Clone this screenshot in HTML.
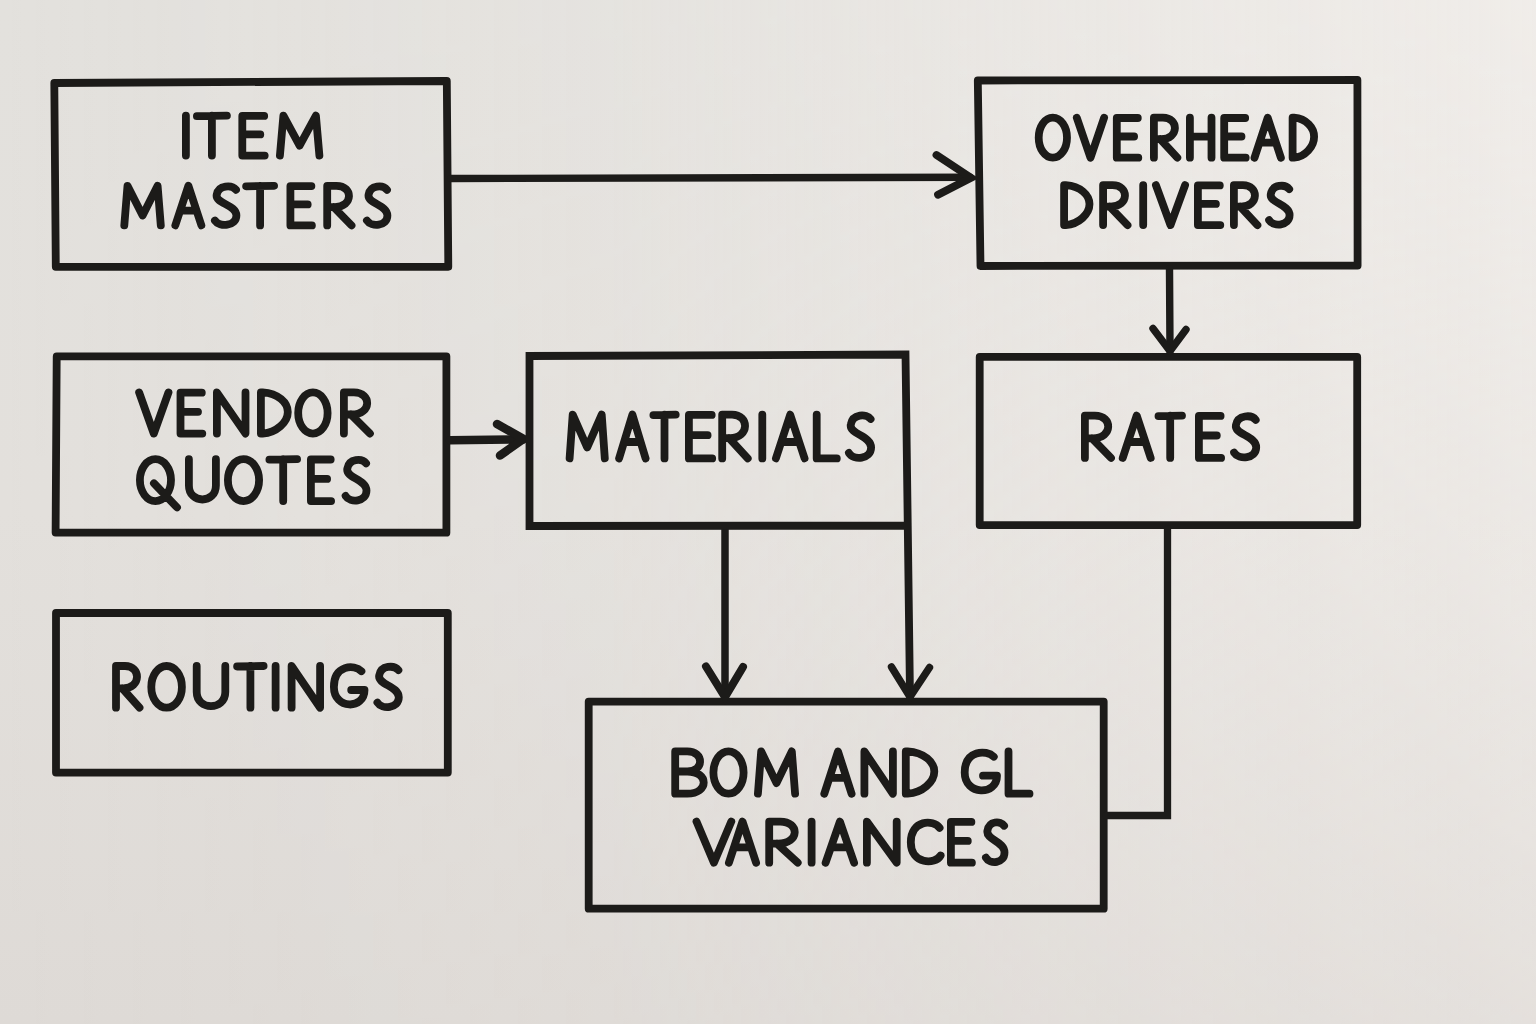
<!DOCTYPE html>
<html><head><meta charset="utf-8"><title>Diagram</title>
<style>
html,body{margin:0;padding:0;width:1536px;height:1024px;overflow:hidden;background:#e5e4e0;font-family:"Liberation Sans",sans-serif;}
svg{display:block}
</style></head>
<body>
<svg width="1536" height="1024" viewBox="0 0 1536 1024">
<defs>
<linearGradient id="bgv" x1="0" y1="0" x2="0" y2="1">
<stop offset="0" stop-color="#e3e1dd"/><stop offset="0.5" stop-color="#e3e0dc"/><stop offset="1" stop-color="#dedad6"/>
</linearGradient>
<linearGradient id="hx" x1="0" y1="0" x2="1" y2="0">
<stop offset="0" stop-color="#fffaf7" stop-opacity="0"/><stop offset="0.4" stop-color="#fffaf7" stop-opacity="0.10"/><stop offset="0.7" stop-color="#fffaf7" stop-opacity="0.30"/><stop offset="1" stop-color="#fffaf7" stop-opacity="0.47"/>
</linearGradient>
<linearGradient id="mv" x1="0" y1="0" x2="0" y2="1">
<stop offset="0" stop-color="#fff"/><stop offset="0.5" stop-color="#b8b8b8"/><stop offset="1" stop-color="#707070"/>
</linearGradient>
<mask id="mk" maskUnits="userSpaceOnUse" x="0" y="0" width="1536" height="1024"><rect width="1536" height="1024" fill="url(#mv)"/></mask>
</defs>
<rect width="1536" height="1024" fill="url(#bgv)"/>
<rect width="1536" height="1024" fill="url(#hx)" mask="url(#mk)"/>
<g fill="none" stroke="#1c1b19" stroke-width="7.8" stroke-linecap="round" stroke-linejoin="round">
<polygon points="54.3,83.0 446.8,81.0 448.3,266.8 55.8,266.8" fill="none" stroke="#1c1b19" stroke-width="7.8" stroke-linejoin="round"/>
<polygon points="977.8,80.5 1357.4,80.0 1357.6,265.6 980.5,266.0" fill="none" stroke="#1c1b19" stroke-width="7.8" stroke-linejoin="round"/>
<polygon points="56.7,356.4 446.4,356.4 446.4,532.7 55.6,532.6" fill="none" stroke="#1c1b19" stroke-width="7.8" stroke-linejoin="round"/>
<polygon points="979.7,356.9 1357.2,356.9 1357.2,525.1 979.7,525.1" fill="none" stroke="#1c1b19" stroke-width="7.8" stroke-linejoin="round"/>
<polygon points="56.0,613.0 447.8,613.0 447.8,772.6 56.0,772.6" fill="none" stroke="#1c1b19" stroke-width="7.8" stroke-linejoin="round"/>
<polygon points="588.7,701.6 1103.7,701.6 1103.7,908.7 588.7,908.7" fill="none" stroke="#1c1b19" stroke-width="7.8" stroke-linejoin="round"/>
<polyline points="451.0,178.5 970.0,177.3" fill="none" stroke="#1c1b19" stroke-width="7.4" stroke-linecap="round" stroke-linejoin="miter"/>
<polyline points="936.5,155.0 971.0,177.8 938.0,194.8" fill="none" stroke="#1c1b19" stroke-width="7.8" stroke-linecap="round" stroke-linejoin="miter"/>
<polyline points="1169.5,269.0 1170.0,351.0" fill="none" stroke="#1c1b19" stroke-width="7.4" stroke-linecap="round" stroke-linejoin="miter"/>
<polyline points="1153.0,328.5 1170.0,351.0 1186.0,329.5" fill="none" stroke="#1c1b19" stroke-width="7.4" stroke-linecap="round" stroke-linejoin="miter"/>
<polyline points="450.0,440.2 523.0,439.5" fill="none" stroke="#1c1b19" stroke-width="8.5" stroke-linecap="round" stroke-linejoin="miter"/>
<polyline points="497.0,424.0 523.5,439.0 500.0,455.5" fill="none" stroke="#1c1b19" stroke-width="8.5" stroke-linecap="round" stroke-linejoin="miter"/>
<polyline points="725.0,528.0 725.0,696.0" fill="none" stroke="#1c1b19" stroke-width="7.5" stroke-linecap="round" stroke-linejoin="miter"/>
<polyline points="706.0,666.5 725.0,697.0 743.0,667.0" fill="none" stroke="#1c1b19" stroke-width="8.0" stroke-linecap="round" stroke-linejoin="miter"/>
<polyline points="910.0,696.0 905.5,354.5 529.5,356.0 529.5,526.0 906.5,525.6" fill="none" stroke="#1c1b19" stroke-width="7.8" stroke-linecap="round" stroke-linejoin="miter"/>
<polyline points="891.5,667.0 910.0,697.0 929.5,667.5" fill="none" stroke="#1c1b19" stroke-width="7.4" stroke-linecap="round" stroke-linejoin="miter"/>
<polyline points="1167.5,529.0 1167.5,815.5 1106.0,815.5" fill="none" stroke="#1c1b19" stroke-width="7.3" stroke-linecap="round" stroke-linejoin="miter"/>
<path d="M185.9 115.6L185.9 155.6M196.9 116.1L226.9 115.6M211.9 115.6L211.9 155.6M264.2 115.9L242.3 115.9L242.3 155.6L264.7 155.6M242.3 134.4L260.3 134.4M279.9 155.6L283.4 115.6L299.6 145.6L315.9 115.6L319.4 155.6"/>
<path d="M124.3 225.4L127.5 185.8L142.6 215.5L157.6 185.8L160.8 225.4M175.3 225.4L188.4 185.8L201.4 225.4M180.5 210.6L196.2 210.6M236.0 189.8C231.9 184.8 218.5 184.8 216.7 194.7C214.9 203.6 236.4 204.6 236.4 215.5C236.4 226.4 219.4 227.4 214.9 220.5M246.1 186.3L274.1 185.8M260.1 185.8L260.1 225.4M311.4 186.1L290.4 186.1L290.4 225.4L311.9 225.4M290.4 204.4L307.7 204.4M327.2 225.4L327.2 185.8L336.5 185.8C353.4 185.8 353.4 207.1 334.7 207.1L327.2 207.1M333.7 207.1L351.5 225.4M387.0 189.8C383.1 184.8 370.3 184.8 368.6 194.7C366.9 203.6 387.4 204.6 387.4 215.5C387.4 226.4 371.2 227.4 366.9 220.5"/>
<path d="M1052.8 117.7C1060.7 117.7 1067.0 126.7 1067.0 137.7C1067.0 148.7 1060.7 157.7 1052.8 157.7C1045.0 157.7 1038.7 148.7 1038.7 137.7C1038.7 126.7 1045.0 117.7 1052.8 117.7M1076.8 117.7L1090.5 157.7L1104.1 117.7M1137.8 118.0L1116.8 118.0L1116.8 157.7L1138.3 157.7M1116.8 136.5L1134.1 136.5M1153.9 157.7L1153.9 117.7L1162.9 117.7C1179.2 117.7 1179.2 139.2 1161.1 139.2L1153.9 139.2M1160.2 139.2L1177.3 157.7M1189.9 117.7L1189.9 157.7M1211.5 117.7L1211.5 157.7M1189.9 136.7L1211.5 136.7M1245.2 118.0L1224.2 118.0L1224.2 157.7L1245.7 157.7M1224.2 136.5L1241.5 136.5M1254.5 157.7L1267.7 117.7L1280.9 157.7M1259.8 142.7L1275.6 142.7M1292.6 157.7L1292.6 117.7L1294.0 117.7C1306.5 118.7 1314.1 127.7 1314.1 136.7C1314.1 146.7 1305.1 156.7 1294.0 157.7L1292.6 157.7"/>
<path d="M1064.1 225.1L1064.1 185.1L1065.7 185.1C1080.5 186.1 1089.5 195.1 1089.5 204.1C1089.5 214.1 1078.8 224.1 1065.7 225.1L1064.1 225.1M1103.1 225.1L1103.1 185.1L1112.5 185.1C1129.4 185.1 1129.4 206.6 1110.6 206.6L1103.1 206.6M1109.7 206.6L1127.5 225.1M1143.2 185.1L1143.2 225.1M1155.9 185.1L1170.5 225.1L1185.1 185.1M1219.8 185.4L1197.9 185.4L1197.9 225.1L1220.3 225.1M1197.9 203.9L1215.9 203.9M1233.9 225.1L1233.9 185.1L1242.9 185.1C1259.2 185.1 1259.2 206.6 1241.1 206.6L1233.9 206.6M1240.2 206.6L1257.4 225.1M1289.2 189.1C1285.3 184.1 1272.5 184.1 1270.8 194.1C1269.1 203.1 1289.6 204.1 1289.6 215.1C1289.6 226.1 1273.4 227.1 1269.1 220.1"/>
<path d="M139.1 392.4L153.8 433.6L168.5 392.4M201.8 392.7L180.5 392.7L180.5 433.6L202.3 433.6M180.5 411.8L198.0 411.8M216.9 433.6L216.9 392.4L245.5 433.6L245.5 392.4M260.9 433.6L260.9 392.4L262.6 392.4C278.3 393.4 287.8 402.7 287.8 412.0C287.8 422.3 276.5 432.6 262.6 433.6L260.9 433.6M312.9 392.4C321.0 392.4 327.6 401.6 327.6 413.0C327.6 424.4 321.0 433.6 312.9 433.6C304.8 433.6 298.2 424.4 298.2 413.0C298.2 401.6 304.8 392.4 312.9 392.4M343.9 433.6L343.9 392.4L353.9 392.4C371.9 392.4 371.9 414.5 351.9 414.5L343.9 414.5M350.9 414.5L369.9 433.6"/>
<path d="M155.4 459.2C164.0 459.2 171.0 468.6 171.0 480.1C171.0 491.7 164.0 501.1 155.4 501.1C146.9 501.1 139.9 491.7 139.9 480.1C139.9 468.6 146.9 459.2 155.4 459.2M153.9 483.3L177.0 507.4M188.9 459.2L188.9 485.4C188.9 504.2 215.9 504.2 215.9 485.4L215.9 459.2M243.5 459.2C252.1 459.2 259.1 468.6 259.1 480.1C259.1 491.7 252.1 501.1 243.5 501.1C234.9 501.1 227.9 491.7 227.9 480.1C227.9 468.6 234.9 459.2 243.5 459.2M269.4 459.7L297.1 459.2M283.2 459.2L283.2 501.1M330.7 459.5L310.9 459.5L310.9 501.1L331.1 501.1M310.9 478.9L327.1 478.9M366.1 463.4C362.1 458.2 349.1 458.2 347.3 468.6C345.6 478.1 366.5 479.1 366.5 490.6C366.5 502.1 350.0 503.2 345.6 495.9"/>
<path d="M569.6 458.4L572.7 414.6L587.2 447.5L601.7 414.6L604.8 458.4M619.1 458.4L632.4 414.6L645.6 458.4M624.4 442.0L640.3 442.0M653.4 415.1L675.7 414.6M664.5 414.6L664.5 458.4M711.7 414.9L688.9 414.9L688.9 458.4L712.2 458.4M688.9 435.2L707.6 435.2M722.2 458.4L722.2 414.6L732.0 414.6C749.7 414.6 749.7 438.1 730.0 438.1L722.2 438.1M729.1 438.1L747.7 458.4M762.3 414.6L762.3 458.4M775.9 458.4L790.2 414.6L804.6 458.4M781.6 442.0L798.9 442.0M816.7 414.6L816.7 458.4L836.8 458.4M870.6 419.0C866.5 413.5 852.6 413.5 850.8 424.5C848.9 434.3 871.1 435.4 871.1 447.5C871.1 459.5 853.5 460.6 848.9 452.9"/>
<path d="M1084.9 457.9L1084.9 415.6L1094.9 415.6C1113.0 415.6 1113.0 438.3 1092.9 438.3L1084.9 438.3M1091.9 438.3L1111.0 457.9M1122.7 457.9L1136.7 415.6L1150.7 457.9M1128.3 442.0L1145.1 442.0M1158.5 416.1L1182.0 415.6M1170.2 415.6L1170.2 457.9M1220.6 415.9L1198.9 415.9L1198.9 457.9L1221.1 457.9M1198.9 435.5L1216.8 435.5M1255.7 419.8C1251.6 414.5 1237.8 414.5 1235.9 425.1C1234.1 434.6 1256.2 435.7 1256.2 447.3C1256.2 459.0 1238.7 460.0 1234.1 452.6"/>
<path d="M116.0 707.7L116.0 666.0L125.0 666.0C141.3 666.0 141.3 688.4 123.2 688.4L116.0 688.4M122.3 688.4L139.5 707.7M166.6 666.0C175.1 666.0 181.9 675.3 181.9 686.9C181.9 698.4 175.1 707.7 166.6 707.7C158.1 707.7 151.3 698.4 151.3 686.9C151.3 675.3 158.1 666.0 166.6 666.0M196.7 666.0L196.7 692.1C196.7 710.8 225.3 710.8 225.3 692.1L225.3 666.0M237.1 666.5L263.6 666.0M250.4 666.0L250.4 707.7M275.6 666.0L275.6 707.7M291.6 707.7L291.6 666.0L320.1 707.7L320.1 666.0M361.4 671.2C354.3 663.9 333.9 665.0 333.9 686.9C333.9 709.8 364.5 709.8 364.5 690.0L351.2 690.0M398.4 670.2C394.3 665.0 381.0 665.0 379.2 675.4C377.4 684.8 398.8 685.8 398.8 697.3C398.8 708.7 381.9 709.8 377.4 702.5"/>
<path d="M675.2 751.4L675.2 793.7M675.2 751.4L687.3 751.4C704.3 751.4 704.3 771.5 687.3 771.5L675.2 771.5M687.3 771.5C709.2 771.5 709.2 793.7 687.3 793.7L675.2 793.7M728.5 751.4C736.8 751.4 743.6 760.9 743.6 772.5C743.6 784.2 736.8 793.7 728.5 793.7C720.2 793.7 713.4 784.2 713.4 772.5C713.4 760.9 720.2 751.4 728.5 751.4M757.9 793.7L761.2 751.4L776.5 783.1L791.8 751.4L795.1 793.7M824.3 793.7L838.0 751.4L851.6 793.7M829.8 777.8L846.1 777.8M864.4 793.7L864.4 751.4L892.9 793.7L892.9 751.4M905.8 793.7L905.8 751.4L907.6 751.4C924.2 752.5 934.3 762.0 934.3 771.5C934.3 782.1 922.3 792.6 907.6 793.7L905.8 793.7M993.8 756.7C986.2 749.3 964.7 750.3 964.7 772.5C964.7 795.8 997.0 795.8 997.0 775.7L983.0 775.7M1008.5 751.4L1008.5 793.7L1029.5 793.7"/>
<path d="M696.5 821.6L713.9 862.7L731.3 821.6M728.9 862.7L742.5 821.6L756.1 862.7M734.3 847.3L750.7 847.3M769.2 862.7L769.2 821.6L780.2 821.6C799.9 821.6 799.9 843.7 778.0 843.7L769.2 843.7M776.9 843.7L797.7 862.7M811.6 821.6L811.6 862.7M825.6 862.7L839.9 821.6L854.1 862.7M831.3 847.3L848.4 847.3M866.9 862.7L866.9 821.6L896.7 862.7L896.7 821.6M939.6 827.8C933.4 819.5 910.8 819.5 910.8 842.2C910.8 864.8 935.5 864.8 940.6 855.5M971.4 821.9L950.9 821.9L950.9 862.7L971.9 862.7M950.9 840.9L967.8 840.9M1004.1 825.7C1000.6 820.6 989.0 820.6 987.4 830.8C985.9 840.1 1004.5 841.1 1004.5 852.4C1004.5 863.7 989.8 864.8 985.9 857.6"/>
</g>
</svg>
</body></html>
